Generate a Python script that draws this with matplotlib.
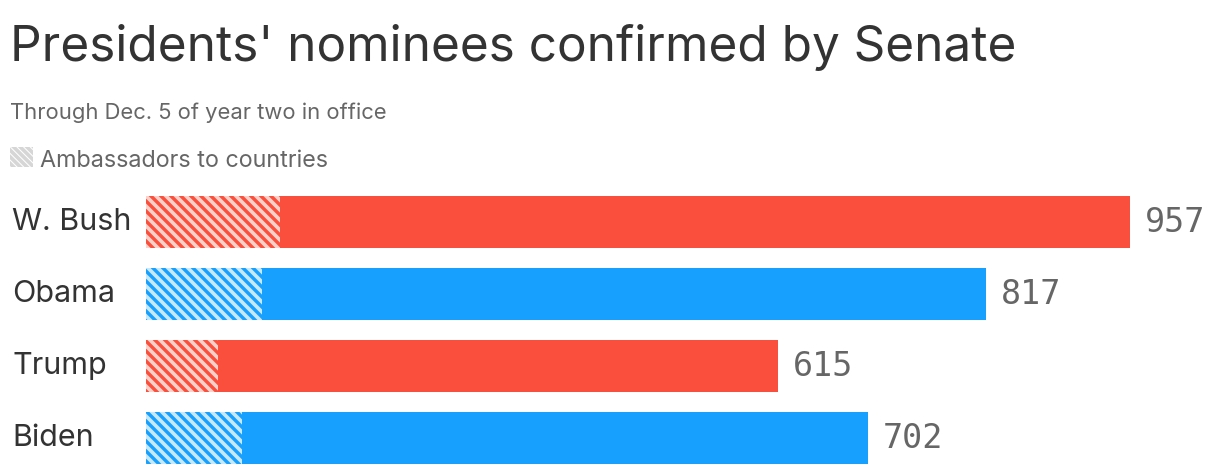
import matplotlib
matplotlib.use('Agg')
import matplotlib.pyplot as plt
from matplotlib.patches import Rectangle
from matplotlib import transforms

# data
presidents = ['W. Bush', 'Obama', 'Trump', 'Biden']
confirmed = [957, 817, 615, 702]
ambassadors = [130, 113, 70, 93]
party = ['R', 'D', 'R', 'D']

red = '#fa4f3d'
blue = '#17a0fd'
bar_color = {'R': red, 'D': blue}
hatch_color = {'R': '#fcd2cb', 'D': '#c8e8fd'}

plt.rcParams['font.family'] = ['Inter', 'DejaVu Sans']
plt.rcParams['hatch.linewidth'] = 2.2

W, H, DPI = 1220, 474, 120
fig = plt.figure(figsize=(W / DPI, H / DPI), dpi=DPI)

# axes from x=146px to right edge, y from 186px to bottom
ax = fig.add_axes([146 / W, 0, 1 - 146 / W, (H - 186) / H])
px_per_unit = (1130 - 146) / 957
ax.set_xlim(0, (W - 146) / px_per_unit)
ax.set_ylim(3.5, -0.5)
ax.axis('off')

y = range(len(presidents))
colors = [bar_color[p] for p in party]
ax.barh(y, confirmed, height=52 / 72, color=colors, linewidth=0)
ax.barh(y, ambassadors, height=52 / 72, color=colors,
        edgecolor=[hatch_color[p] for p in party], linewidth=0,
        hatch='\\\\\\\\')

# value labels
for i, v in enumerate(confirmed):
    ax.annotate(str(v), (v, i), xytext=(9, 0), textcoords='offset points',
                va='center', ha='left', fontsize=20, color='#666666',
                family=['DejaVu Sans Mono'])

# president names
trans = transforms.blended_transform_factory(fig.transFigure, ax.transData)
for i, name in enumerate(presidents):
    ax.text(12 / W, i, name, transform=trans, va='center', ha='left',
            fontsize=18.3, color='#333333')

# title, subtitle, legend
fig.text(10 / W, 1 - 61 / H, "Presidents' nominees confirmed by Senate",
         fontsize=29.7, color='#333333', va='baseline', ha='left')
fig.text(10 / W, 1 - 119 / H, 'Through Dec. 5 of year two in office',
         fontsize=13.2, color='#666666', va='baseline', ha='left')
fig.patches.append(Rectangle((10 / W, 1 - 167 / H), 23 / W, 20 / H,
                             transform=fig.transFigure, facecolor='white',
                             edgecolor='#d6d6d6', linewidth=0,
                             hatch='\\\\\\\\\\\\'))
fig.text(40 / W, 1 - 167 / H, 'Ambassadors to countries',
         fontsize=14, color='#666666', va='baseline', ha='left')

fig.savefig('out.png', dpi=DPI, facecolor='white')
